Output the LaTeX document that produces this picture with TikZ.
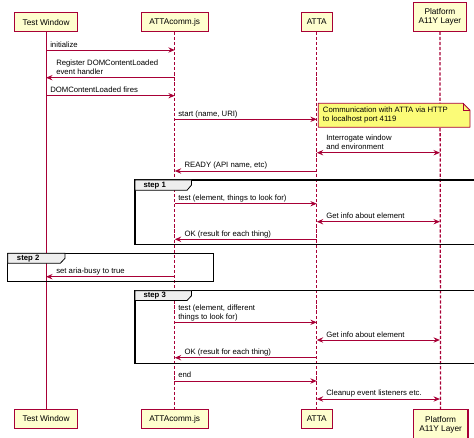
\documentclass[tikz,border=0pt]{standalone}
\usepackage{fontspec}
\setmainfont{Liberation Sans}
\usetikzlibrary{arrows.meta}
\definecolor{umlred}{HTML}{A80036}
\definecolor{partfill}{HTML}{FEFECE}
\definecolor{notefill}{HTML}{FBFB77}
\definecolor{tabfill}{HTML}{EEEEEE}
\tikzset{
  participant/.style={draw=umlred, fill=partfill, line width=0.85pt, inner sep=0pt,
    font=\fontsize{6.2}{7}\selectfont, align=center, anchor=north west},
  lifeline/.style={draw=umlred, line width=0.95pt, dash pattern=on 2.4pt off 1.4pt},
  solidline/.style={draw=umlred, line width=0.5pt},
  tip/.style={Stealth[length=4.8pt,width=4pt,inset=1.6pt]},
  msg/.style={draw=umlred, line width=0.7pt, -{Stealth[length=4.8pt,width=4pt,inset=1.6pt]}},
  dmsg/.style={draw=umlred, line width=0.7pt, {Stealth[length=4.8pt,width=4pt,inset=1.6pt]}-{Stealth[length=4.8pt,width=4pt,inset=1.6pt]}},
  lbl/.style={inner sep=0pt, anchor=base west, align=left, font=\fontsize{5.8}{6.75}\selectfont},
  framebox/.style={draw=black, line width=1.1pt},
  tabbox/.style={draw=black, fill=tabfill, line width=0.6pt},
  tablbl/.style={inner sep=0pt, anchor=west, font=\fontsize{5.8}{6.75}\selectfont\bfseries},
  notebox/.style={draw=umlred, fill=notefill, line width=0.6pt, line join=round},
}
\begin{document}
\begin{tikzpicture}[x=0.75pt, y=-0.75pt]
\useasboundingbox (0,0) rectangle (474,438);

% participant boxes, top and bottom
\node[participant, minimum width=47.25pt, minimum height=13.8pt] (twT) at (14,12.3) {Test Window};
\node[participant, minimum width=50.25pt, minimum height=13.8pt] (acT) at (140.7,12.3) {ATTAcomm.js};
\node[participant, minimum width=23.25pt, minimum height=13.8pt] (atT) at (300.7,12.3) {ATTA};
\node[participant, minimum width=40pt, minimum height=21.5pt] (plT) at (412.7,2) {Platform\\A11Y Layer};
\node[participant, minimum width=47.25pt, minimum height=14pt] (twB) at (14,409) {Test Window};
\node[participant, minimum width=50.25pt, minimum height=14pt] (acB) at (140.7,409) {ATTAcomm.js};
\node[participant, minimum width=23.25pt, minimum height=14pt] (atB) at (300.7,409) {ATTA};
\node[participant, minimum width=41pt, minimum height=23pt] (plB) at (412.7,409) {Platform\\A11Y Layer};

% lifelines
\draw[solidline] (twT.south) -- (twB.north);
\draw[lifeline] (acT.south) -- (acB.north);
\draw[lifeline] (atT.south) -- (atB.north);
\draw[lifeline] (plT.south) -- (plB.north);

% grouping frames (open on the right, running off the page)
\draw[framebox] (476,180) -- (135,180) -- (135,244.3) -- (476,244.3);
\draw[tabbox] (135,180) -- (191.5,180) -- (191.5,185) -- (187,190.3) -- (135,190.3) -- cycle;
\node[tablbl] (s1) at (143.3,185.3) {step 1};
\draw[framebox] (7.7,253.3) rectangle (213.3,281.3);
\draw[tabbox] (7.7,253.3) -- (65,253.3) -- (65,258.3) -- (60.3,263.3) -- (7.7,263.3) -- cycle;
\node[tablbl] (s2) at (16.7,258.3) {step 2};
\draw[framebox] (476,290.7) -- (135,290.7) -- (135,363.3) -- (476,363.3);
\draw[tabbox] (135,290.7) -- (191.5,290.7) -- (191.5,295.7) -- (187,300.5) -- (135,300.5) -- cycle;
\node[tablbl] (s3) at (143.3,295.6) {step 3};

% note with folded corner
\draw[notebox] (318.3,103.3) -- (463,103.3) -- (470,110.3) -- (470,127.3) -- (318.3,127.3) -- cycle;
\draw[umlred, line width=0.6pt] (463,103.3) -- (463,110.3) -- (470,110.3);
\node[lbl] (notetxt) at (322.7,122) {Communication with ATTA via HTTP\\to localhost port 4119};

% messages
\draw[msg] (twT |- 0,50) -- (acT |- 0,50);
\node[lbl] (m1) at (50,47.5) {initialize};
\draw[msg] (acT |- 0,77.7) -- (twT |- 0,77.7);
\node[lbl] (m2) at (56,74.7) {Register DOMContentLoaded\\event handler};
\draw[msg] (twT |- 0,95.7) -- (acT |- 0,95.7);
\node[lbl] (m3) at (50,92.5) {DOMContentLoaded fires};
\draw[msg] (acT |- 0,119.3) -- (atT |- 0,119.3);
\node[lbl] (m4) at (178,116.8) {start (name, URI)};
\draw[dmsg] (atT |- 0,152.7) -- (plT |- 0,152.7);
\node[lbl] (m5) at (326,150) {Interrogate window\\and environment};
\draw[msg] (atT |- 0,171) -- (acT |- 0,171);
\node[lbl] (m6) at (184.3,167.8) {READY (API name, etc)};

\draw[msg] (acT |- 0,203.7) -- (atT |- 0,203.7);
\node[lbl] (m7) at (178,200.5) {test (element, things to look for)};
\draw[dmsg] (atT |- 0,221.7) -- (plT |- 0,221.7);
\node[lbl] (m8) at (326,218.2) {Get info about element};
\draw[msg] (atT |- 0,239.3) -- (acT |- 0,239.3);
\node[lbl] (m9) at (184.3,236.2) {OK (result for each thing)};

\draw[msg] (acT |- 0,276.7) -- (twT |- 0,276.7);
\node[lbl] (m10) at (56,273.8) {set aria-busy to true};

\draw[msg] (acT |- 0,322.3) -- (atT |- 0,322.3);
\node[lbl] (m11) at (178,319.5) {test (element, different\\things to look for)};
\draw[dmsg] (atT |- 0,340) -- (plT |- 0,340);
\node[lbl] (m12) at (326,337.2) {Get info about element};
\draw[msg] (atT |- 0,357.7) -- (acT |- 0,357.7);
\node[lbl] (m13) at (184.3,354.8) {OK (result for each thing)};

\draw[msg] (acT |- 0,381) -- (atT |- 0,381);
\node[lbl] (m14) at (178,377.2) {end};
\draw[dmsg] (atT |- 0,399) -- (plT |- 0,399);
\node[lbl] (m15) at (326,395.2) {Cleanup event listeners etc.};
\end{tikzpicture}
\end{document}
